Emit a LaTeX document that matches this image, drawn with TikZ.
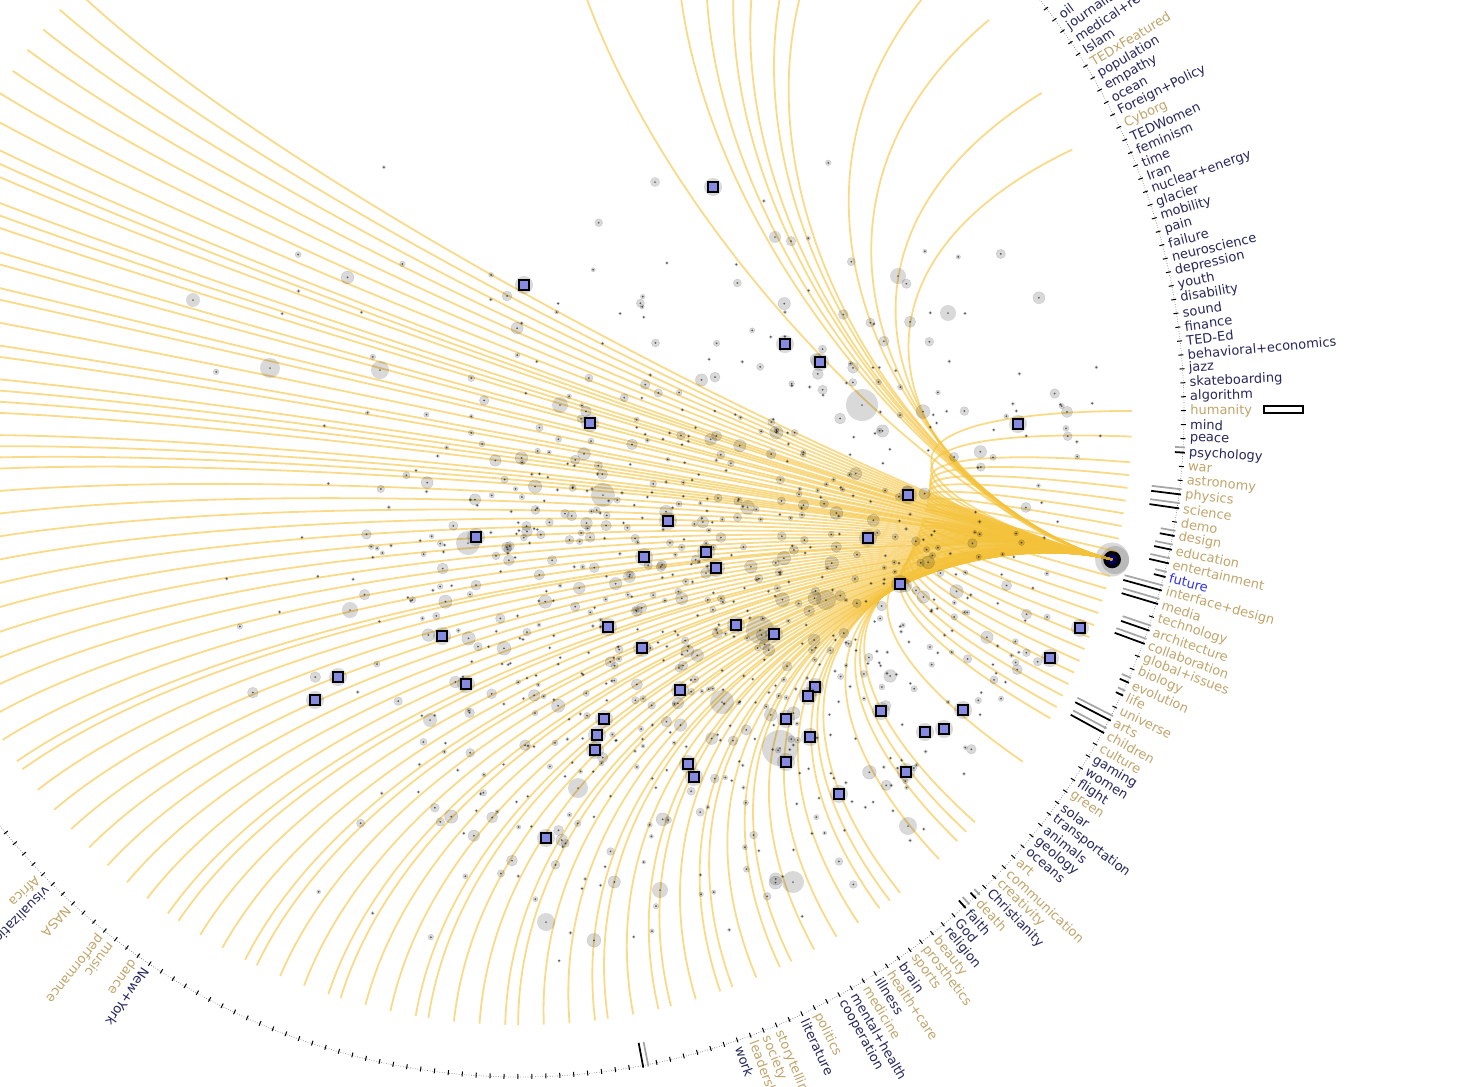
\documentclass[tikz,border=0pt]{standalone}
\usepackage{fontspec}
\setmainfont{DejaVu Sans}
\usepackage{xcolor}
\definecolor{tagGold}{RGB}{192,164,106}
\definecolor{tagNavy}{RGB}{38,38,92}
\definecolor{tagBlue}{RGB}{45,45,245}
\definecolor{linkYellow}{RGB}{244,194,58}
\definecolor{talkBlue}{RGB}{135,138,225}
\colorlet{g}{tagGold}
\colorlet{n}{tagNavy}
\colorlet{b}{tagBlue}

\begin{document}
\begin{tikzpicture}[
    x=0.2mm, y=0.2mm,
    tagLabel/.style={
        anchor=west,
        inner sep=0pt,
        font=\fontsize{7.4}{8}\selectfont
    },
    link/.style={
        draw=linkYellow,
        line width=0.36mm,
        opacity=0.6
    },
    talk/.style={
        rectangle,
        draw=black,
        fill=talkBlue,
        line width=0.35mm,
        minimum size=2.1mm,
        inner sep=0pt
    },
    hub/.style={
        circle,
        draw=black,
        line width=0.7mm,
        fill=blue!45!black,
        minimum size=2.8mm,
        inner sep=0pt
    },
    halo/.style={
        fill=black,
        opacity=0.15
    }
]

\useasboundingbox (0,0) rectangle (1469,-1086);
\clip (0,0) rectangle (1469,-1086);

% scope centred on the tag circle
\begin{scope}[shift={(520,-413)}]

% hub node of the selected tag
\fill[halo] (-13.9:610) circle[radius=17];
\node[hub] (future) at (-13.9:610) {};

% links from the selected tag
\foreach \k [count=\n] in {-26,-21,0,2,4,5,6,7,8,9,10,11,13,14,15,16,17,18,19,20,21,22,23,24,25,29,35,36,37,39,43,44,45,47,49,
    51,53,54,56,58,59,61,63,64,66,68,69,71,73,75,76,78,80,82,83,85,87,89,90,92,94,96,97,99,101,103,104,106,108,
    110,112,114,116,118,120,
    -33,-38,-48,-50,-53,-55,-58,-61,-72,-113,-115,-117,-119,-121,-123,-125,-127,-128,-129,-131,-132,-133,
    -135,-136,-138,-139,-141,-143,-144,-146,-147,-148,-149,-151,-152,-153,-154,-156,-158,-160,-162,-164,-166,-168,-170,
    -172,-174,-176,-178} {
    \pgfmathsetmacro\a{0.2-1.205*\k}
    \coordinate (end\n) at (\a:612);
    \draw[link] (future.center) .. controls (-13.9:410) and (\a:300) .. (end\n);
}

% ticks along the circle
\draw[gray, densely dotted] (40:664) arc[start angle=40, end angle=-145, radius=664];
\foreach \k in {-32,...,120} {
    \pgfmathsetmacro\a{0.2-1.205*\k}
    \draw[black, line width=0.2mm] (\a:661) -- (\a:666);
}

% bars
\foreach \k/\len in {3/10,6/30,7/30,9/15,10/18,11/20,12/12,13/40,14/38,16/30,17/32,20/10,21/8,23/40,24/38,39/8,40/10,66/25} {
    \pgfmathsetmacro\a{0.2-1.205*\k}
    \draw[black!35, line width=0.35mm] (\a+0.45:666) -- (\a+0.45:666-\len);
    \draw[black, line width=0.35mm] (\a:666) -- (\a:666-\len);
}

% tag labels
\foreach \k/\t/\c [count=\n] in {-30/oil/n,-29/journalism/n,-28/medical+research/n,-27/Islam/n,-26/TEDxFeatured/g,
    -25/population/n,-24/empathy/n,-23/ocean/n,-22/Foreign+Policy/n,-21/Cyborg/g,-20/TEDWomen/n,-19/feminism/n,
    -18/time/n,-17/Iran/n,-16/nuclear+energy/n,-15/glacier/n,-14/mobility/n,-13/pain/n,-12/failure/n,
    -11/neuroscience/n,-10/depression/n,-9/youth/n,-8/disability/n,-7/sound/n,-6/finance/n,-5/TED-Ed/n,
    -4/behavioral+economics/n,-3/jazz/n,-2/skateboarding/n,-1/algorithm/n,0/humanity/g,1/mind/n,2/peace/n,
    3/psychology/n,4/war/g,5/astronomy/g,6/physics/g,7/science/g,8/demo/g,9/design/g,10/education/g,
    11/entertainment/g,12/future/b,13/interface+design/g,14/media/g,15/technology/g,16/architecture/g,
    17/collaboration/g,18/global+issues/g,19/biology/g,20/evolution/g,21/life/g,22/universe/g,23/arts/g,
    24/children/g,25/culture/g,26/gaming/n,27/women/n,28/flight/n,29/green/g,30/solar/n,31/transportation/n,
    32/animals/n,33/geology/n,34/oceans/n,35/art/g,36/communication/g,37/creativity/g,38/Christianity/n,
    39/death/g,40/faith/n,41/God/n,42/religion/n,43/beauty/g,44/prosthetics/g,45/sports/g,46/brain/n,
    47/health+care/g,48/illness/n,49/medicine/g,50/mental+health/n,51/cooperation/n,53/politics/g,
    54/literature/n,56/storytelling/g,57/society/g,58/leadership/g,59/work/n,
    103/New+York/n,104/dance/g,106/music/g,107/performance/g,110/NASA/g,112/visualizations/n,113/Africa/g} {
    \pgfmathsetmacro\a{0.2-1.205*\k}
    \node[tagLabel, text=\c, rotate=\a] (tag\n) at (\a:670) {\t};
}
\end{scope}

% marker after the hovered tag
\node[draw=black, line width=0.4mm, minimum width=7.8mm, minimum height=1.4mm, inner sep=0pt] (humanityMark) at (1283,-409) {};

% talks
\pgfmathsetseed{4242}
\foreach \n in {1,...,950} {
    \pgfmathsetmacro\px{730+400*(rnd+rnd+rnd-1.5)}
    \pgfmathsetmacro\py{600+310*(rnd+rnd+rnd-1.5)}
    \pgfmathsetmacro\rr{1.5+5.5*rnd^3}
    \pgfmathtruncatemacro\inside{((\px-520)/100)^2+((\py-413)/100)^2 < 34 ? 1 : 0}
    \ifnum\inside=1
        \fill[halo, draw=black, draw opacity=0.12, line width=0.1mm] (\px,-\py) circle[radius=\rr];
        \fill[black, opacity=0.6] (\px,-\py) circle[radius=1];
    \fi
}
\foreach \x/\y/\r in {862/405/16,270/368/10,193/300/7,898/276/8,948/313/8,780/748/18,793/882/11,546/922/9,
    603/495/12,468/543/12,760/630/14,908/826/9,380/370/9,560/405/8,660/890/8,578/788/10,722/702/12,
    826/600/10,430/720/7,350/610/8,775/237/6,655/182/5,1115/560/14} {
    \fill[halo] (\x,-\y) circle[radius=\r];
    \fill[black, opacity=0.5] (\x,-\y) circle[radius=1];
}

% selected talks
\foreach \x/\y [count=\n] in {713/187,524/285,785/344,820/362,590/423,1018/424,908/495,668/521,476/537,644/557,
    706/552,716/568,868/538,900/584,442/636,608/627,736/625,774/634,642/648,1080/628,338/677,315/700,466/684,
    680/690,1050/658,815/687,808/696,881/711,963/710,786/719,604/719,597/735,944/729,925/732,810/737,595/750,
    688/764,694/777,786/762,906/772,839/794,546/838} {
    \fill[halo] (\x,-\y) circle[radius=9];
    \node[talk] (talk\n) at (\x,-\y) {};
}

\end{tikzpicture}
\end{document}
